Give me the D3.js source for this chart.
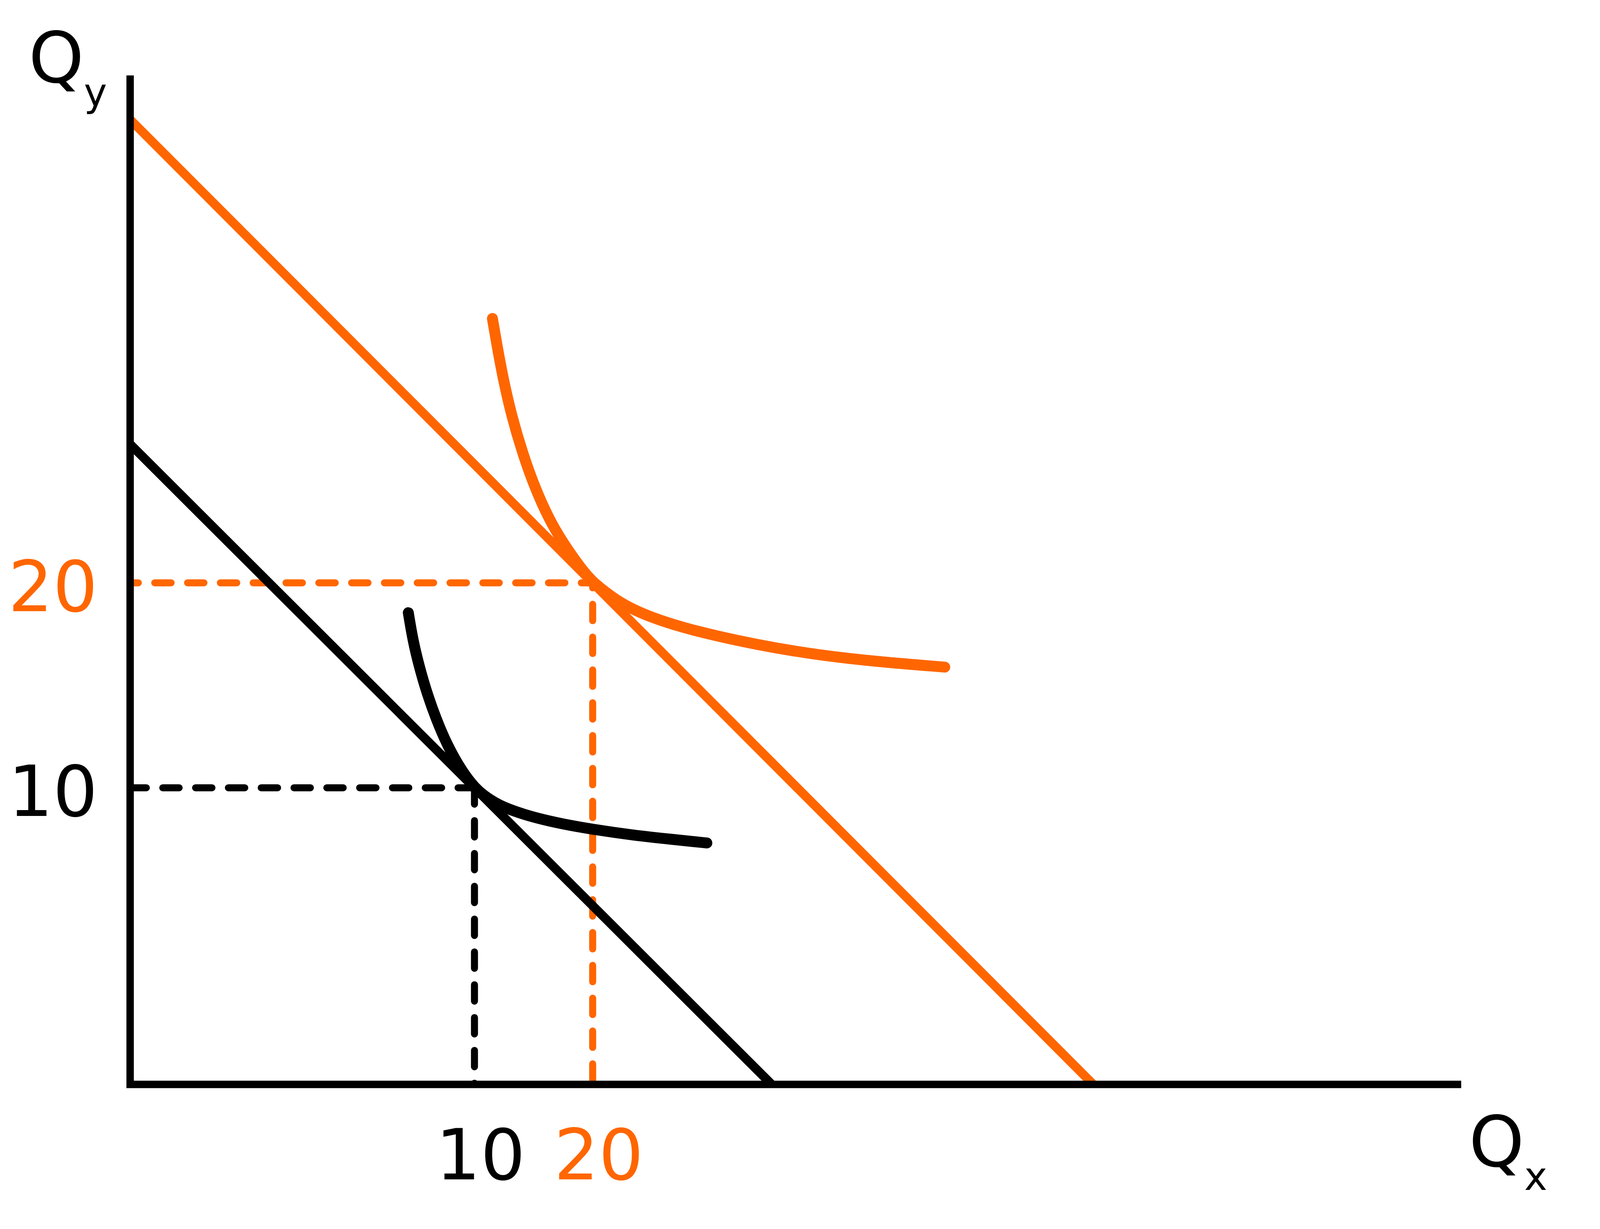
<!DOCTYPE html>
<html>
<head>
<meta charset="utf-8">
<script src="https://cdn.jsdelivr.net/npm/d3@7"></script>
<style>
  html, body { margin: 0; padding: 0; background: #ffffff; overflow: hidden; }
  svg { display: block; }
</style>
</head>
<body>
<svg id="chart"></svg>
<script>
// ---------------- DATA (abstract chart units, both axes run 0..100) ----------------
const seriesNames = ["initial", "new"];
const budgetXIntercepts = [48.20, 72.36];
const budgetYIntercepts = [63.45, 95.63];
const optimumX = [25.87, 34.75];
const optimumY = [29.40, 49.71];
const tickLabels = ["10", "20"];

const indiffInitialX = [20.90, 21.25, 21.73, 22.29, 22.99, 23.82, 24.91, 25.93, 26.65, 27.39, 28.11, 29.57, 31.00, 32.46, 34.64, 37.71, 40.76, 43.33];
const indiffInitialY = [46.75, 43.96, 41.36, 38.81, 36.21, 33.62, 31.06, 29.34, 28.56, 27.94, 27.44, 26.76, 26.25, 25.82, 25.30, 24.71, 24.28, 23.93];
const indiffNewX = [27.22, 27.51, 28.02, 28.65, 29.46, 30.44, 31.72, 32.96, 34.05, 34.75, 36.60, 37.69, 39.15, 42.04, 47.31, 51.82, 56.33, 61.20];
const indiffNewY = [75.91, 73.63, 69.95, 66.31, 62.65, 58.99, 55.34, 52.83, 50.85, 49.77, 47.91, 47.15, 46.28, 45.04, 43.49, 42.53, 41.87, 41.36];

const axisLabelMain = "Q";
const axisLabelSubX = "x";
const axisLabelSubY = "y";

// ---------------- LAYOUT / STYLE ----------------
const REF_W = 5521, REF_H = 3145;
const W = window.innerWidth || REF_W;
const H = window.innerHeight || REF_H;
const sx = W / REF_W, sy = H / REF_H;
const colors = ["#000000", "#ff6600"];
const font = "'DejaVu Sans', sans-serif";
const fontMain = 180, fontSub = 100;

const svg = d3.select("#chart").attr("width", W).attr("height", H);

const x = d3.scaleLinear().domain([0, 100]).range([449 * sx, 5042 * sx]);
const y = d3.scaleLinear().domain([0, 100]).range([2775 * sy, 193 * sy]);

// ---------------- dashed guide lines ----------------
seriesNames.forEach((s, i) => {
  const g = svg.append("g").attr("class", "guides-" + s)
    .attr("fill", "none").attr("stroke", colors[i])
    .attr("stroke-width", 18).attr("stroke-linecap", "round")
    .attr("stroke-dasharray", "42 42");
  const cx = x(optimumX[i]), cy = y(optimumY[i]);
  if (i === 0) {
    g.append("path").attr("d", d3.line()([[cx, cy], [x(0), cy]]));
    g.append("path").attr("d", d3.line()([[cx, cy], [cx, y(0)]]));
  } else {
    g.append("path").attr("stroke-dashoffset", 21)
      .attr("d", d3.line()([[x(0), cy], [cx, cy], [cx, y(0)]]));
  }
});

// ---------------- budget lines ----------------
seriesNames.forEach((s, i) => {
  svg.append("path").attr("class", "budget-" + s)
    .attr("fill", "none").attr("stroke", colors[i]).attr("stroke-width", 23)
    .attr("d", d3.line()([[x(0), y(budgetYIntercepts[i])], [x(budgetXIntercepts[i]), y(0)]]));
});

// ---------------- indifference curves ----------------
const curveData = [
  d3.zip(indiffInitialX, indiffInitialY),
  d3.zip(indiffNewX, indiffNewY)
];
const curveGen = d3.line().x(d => x(d[0])).y(d => y(d[1])).curve(d3.curveBasis);
seriesNames.forEach((s, i) => {
  svg.append("path").attr("class", "indiff-" + s)
    .attr("fill", "none").attr("stroke", colors[i]).attr("stroke-width", 28)
    .attr("stroke-linecap", "round").attr("stroke-linejoin", "round")
    .attr("d", curveGen(curveData[i]));
});

// ---------------- axes ----------------
svg.append("path").attr("class", "axes")
  .attr("fill", "none").attr("stroke", "#000").attr("stroke-width", 19)
  .attr("stroke-linejoin", "miter")
  .attr("d", d3.line()([[x(0), y(100)], [x(0), y(0)], [x(100), y(0)]]));

const xAxis = d3.axisBottom(x).tickValues(optimumX)
  .tickFormat((d, i) => tickLabels[i]).tickSize(0).tickPadding(115 * sy);
const yAxis = d3.axisLeft(y).tickValues(optimumY)
  .tickFormat((d, i) => tickLabels[i]).tickSize(0).tickPadding((449 - 337) * sx);

const gx = svg.append("g").attr("transform", `translate(0,${y(0)})`).call(xAxis);
const gy = svg.append("g").attr("transform", `translate(${x(0)},0)`).call(yAxis);
[gx, gy].forEach(g => {
  g.select(".domain").remove();
  g.attr("font-family", font).attr("font-size", fontMain);
  g.selectAll(".tick text").attr("fill", (d, i) => colors[i]);
});
gx.selectAll(".tick text").attr("dx", 15);
gy.selectAll(".tick text").attr("dy", "0.40em");

// ---------------- axis titles ----------------
function qLabel(cxRef, baseRef, sub) {
  const t = svg.append("text").attr("x", cxRef * sx).attr("y", baseRef * sy)
    .attr("text-anchor", "middle")
    .attr("font-family", font).attr("font-size", fontMain).attr("fill", "#000");
  t.append("tspan").text(axisLabelMain);
  t.append("tspan").attr("font-size", fontSub).attr("dy", 60).text(sub);
}
qLabel(234, 211, axisLabelSubY);
qLabel(5204, 2985, axisLabelSubX);
</script>
</body>
</html>
